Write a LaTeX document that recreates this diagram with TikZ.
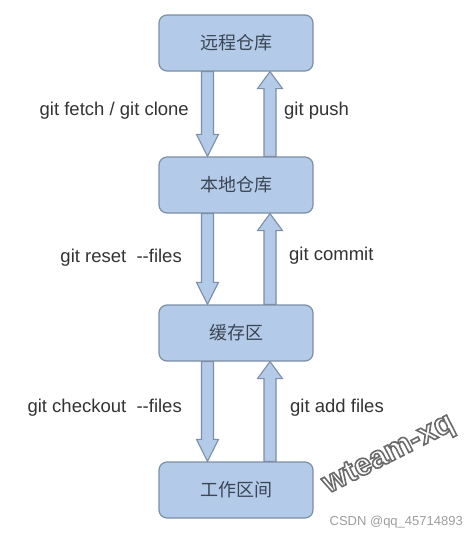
\documentclass[tikz,border=0pt]{standalone}
\usepackage{fontspec}
\setmainfont{Liberation Sans}
\newfontfamily\cjk{Noto Sans CJK SC}
\usetikzlibrary{calc}
\definecolor{boxfill}{HTML}{B3CAE8}
\definecolor{boxline}{HTML}{7C8FA6}
\definecolor{txt}{HTML}{333333}
\definecolor{cjktxt}{HTML}{3B4654}
\tikzset{
  stage/.style={draw=boxline, fill=boxfill, line width=1.2pt, rounded corners=8pt,
    minimum width=154pt, minimum height=56pt, font=\cjk\fontsize{18}{18}\selectfont, text=cjktxt},
  blockarr/.style={draw=boxline, fill=boxfill, line width=1.1pt, line join=miter},
  lbl/.style={font=\fontsize{18.5}{20}\selectfont, text=txt, inner sep=0pt}
}
\newcommand\downarr[2]{%
  \draw[blockarr] let \p1=(#1), \p2=(#2) in
    (\x1-6pt,\y1) -- (\x1-6pt,\y2+22pt) -- (\x1-11pt,\y2+22pt) -- (\x1,\y2)
    -- (\x1+11pt,\y2+22pt) -- (\x1+6pt,\y2+22pt) -- (\x1+6pt,\y1) -- cycle;}
\newcommand\uparr[2]{%
  \draw[blockarr] let \p1=(#1), \p2=(#2) in
    (\x1-6pt,\y1) -- (\x1-6pt,\y2-17pt) -- (\x1-12.5pt,\y2-17pt) -- (\x1,\y2)
    -- (\x1+12.5pt,\y2-17pt) -- (\x1+6pt,\y2-17pt) -- (\x1+6pt,\y1) -- cycle;}
\newcommand\outlinetext[1]{\special{pdf:literal direct 1 Tr 1.6 w 0.42 G}#1\special{pdf:literal direct 0 Tr}}
\begin{document}
\begin{tikzpicture}[x=1pt,y=-1pt]
\useasboundingbox (0,0) rectangle (474,535);
\fill[white] (0,0) rectangle (474,535);
\node[stage] (b1) at (236,43) {远程仓库};
\node[stage] (b2) at (236,185) {本地仓库};
\node[stage] (b3) at (236,333) {缓存区};
\node[stage] (b4) at (236,490) {工作区间};
\coordinate (d1s) at ($(b1.south)+(-28.5,0)$);
\coordinate (d1e) at ($(b2.north)+(-28.5,0)$);
\coordinate (d2s) at ($(b2.south)+(-28.5,0)$);
\coordinate (d2e) at ($(b3.north)+(-28.5,0)$);
\coordinate (d3s) at ($(b3.south)+(-28.5,0)$);
\coordinate (d3e) at ($(b4.north)+(-28.5,0)$);
\coordinate (u1s) at ($(b2.north)+(34,0)$);
\coordinate (u1e) at ($(b1.south)+(34,0)$);
\coordinate (u2s) at ($(b3.north)+(34,0)$);
\coordinate (u2e) at ($(b2.south)+(34,0)$);
\coordinate (u3s) at ($(b4.north)+(34,0)$);
\coordinate (u3e) at ($(b3.south)+(34,0)$);
\downarr{d1s}{d1e}
\downarr{d2s}{d2e}
\downarr{d3s}{d3e}
\uparr{u1s}{u1e}
\uparr{u2s}{u2e}
\uparr{u3s}{u3e}
\node[lbl, anchor=east] (l1) at (189,111) {git fetch / git clone};
\node[lbl, anchor=east] (l2) at (182,258) {git reset\ \ -{}-files};
\node[lbl, anchor=east] (l3) at (182,408) {git checkout\ \ -{}-files};
\node[lbl, anchor=west] (r1) at (284,111) {git push};
\node[lbl, anchor=west] (r2) at (289,256) {git commit};
\node[lbl, anchor=west] (r3) at (290,408) {git add files};
\node[rotate=27, font=\bfseries\fontsize{31}{31}\selectfont, text=white] (wm) at (389,455)
  {\outlinetext{wteam-xq}};
\node[font=\fontsize{13}{14}\selectfont, text=black!38, anchor=east, inner sep=0pt] (csdn) at (463,522) {CSDN @qq\_45714893};
\end{tikzpicture}
\end{document}
